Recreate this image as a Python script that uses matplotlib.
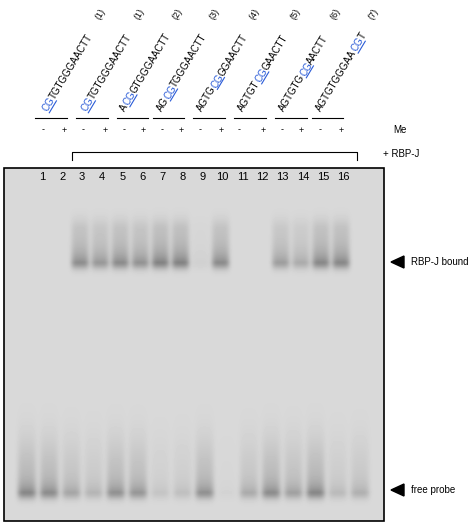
import numpy as np
import matplotlib.pyplot as plt
from matplotlib.textpath import TextPath
from matplotlib.font_manager import FontProperties

# sequences: (prefix, methylated CG, suffix)
seqs = [("", "CG", "TGTGGGAACTT"), ("", "CG", "TGTGGGAACTT"), ("A", "CG", "GTGGGAACTT"),
        ("AG", "CG", "TGGGAACTT"), ("AGTG", "CG", "GGAACTT"), ("AGTGT", "CG", "GAACTT"),
        ("AGTGTG", "CG", "AACTT"), ("AGTGTGGGAA", "CG", "T")]
seq_ids = ["(1)", "(1)", "(2)", "(3)", "(4)", "(5)", "(6)", "(7)"]
lanes = [str(i) for i in range(1, 17)]
me = ["-", "+"] * 8
bound = [0, 0, 0.7, 0.6, 0.72, 0.65, 0.8, 0.8, 0.08, 0.72, 0, 0, 0.55, 0.42, 0.75, 0.75]
free = [0.8, 0.75, 0.5, 0.35, 0.7, 0.65, 0.2, 0.25, 0.7, 0.05, 0.45, 0.75, 0.55, 0.8, 0.3, 0.4]

W, H = 474, 527
fig = plt.figure(figsize=(W / 100, H / 100), dpi=100)
ax = fig.add_axes([0, 0, 1, 1])
ax.set_xlim(0, W)
ax.set_ylim(H, 0)
ax.axis("off")

# gel image
gx0, gx1, gy0, gy1 = 4, 384, 168, 521
xs = np.arange(gx0, gx1) + 0.5
ys = np.arange(gy0, gy1) + 0.5
X, Y = np.meshgrid(xs, ys)
img = np.full(X.shape, 0.85)
num_x = np.linspace(42, 343, 16)
for i in range(16):
    # bound band (lanes lean left toward bottom)
    cb = num_x[i] - 2
    b = bound[i]
    prof = np.exp(-((X - cb) / 9.0) ** 4)
    band = np.where(Y < 262, 0.25 + 0.75 * np.exp(-((262 - Y) / 12.0)), np.exp(-((Y - 262) / 7.0) ** 2))
    band = band * np.where(Y < 230, np.exp(-((230 - Y) / 12.0) ** 2), 1.0)
    img -= b * 0.42 * prof * band
    cf = 27 + i * 22.2
    f = free[i]
    prof = np.exp(-((X - cf) / 9.5) ** 4)
    band = np.where(Y < 492, 0.3 + 0.7 * np.exp(-((492 - Y) / 10.0)), np.exp(-((Y - 492) / 7.0) ** 2))
    band = band * np.where(Y < 470, np.exp(-((470 - Y) / 35.0) ** 2), 1.0)
    img -= f * 0.4 * prof * band
img = np.clip(img, 0, 1)
ax.imshow(img, cmap="gray", vmin=0, vmax=1, extent=(gx0, gx1, gy1, gy0), aspect="auto", zorder=1,
          interpolation="bilinear")
ax.add_patch(plt.Rectangle((gx0, gy0), gx1 - gx0, gy1 - gy0, fill=False, lw=1.2, ec="k", zorder=2))

font = "Liberation Sans"
fp = FontProperties(family=font)
fs = 7.0
rot = 59
ang = np.deg2rad(rot)
d = np.array([np.cos(ang), -np.sin(ang)])
perp = np.array([np.sin(ang), np.cos(ang)])
starts = [48, 87, 125, 162, 202, 243, 284, 321]


def width_px(s):
    if not s:
        return 0.0
    return TextPath((0, 0), s, size=fs, prop=fp).get_extents().width * 100 / 72 + 0.5


for k, (pre, cg, suf) in enumerate(seqs):
    p = np.array([starts[k], 112.0])
    for part, col in ((pre, "k"), (cg, "#2a5bd7"), (suf, "k")):
        if part:
            ax.text(p[0], p[1], part, rotation=rot, rotation_mode="anchor", ha="left", va="baseline",
                    fontsize=fs, family=font, color=col)
            wpx = width_px(part)
            if col != "k":
                a = p + perp * 1.5
                e = a + d * wpx
                ax.plot([a[0], e[0]], [a[1], e[1]], color=col, lw=0.8)
            p = p + d * wpx
    ax.text(starts[k] + 52, 14, seq_ids[k], rotation=rot, ha="center", va="center", fontsize=6.5, family=font)

# underlines, Me row
line_x = [(35, 67), (76, 108), (117, 148), (153, 184), (193, 225), (234, 266), (275, 307), (312, 343)]
for a, b in line_x:
    ax.plot([a, b], [118, 118], color="k", lw=0.8)
me_x = [43, 64, 83, 105, 124, 143, 162, 181, 200, 221, 239, 263, 282, 301, 320, 341]
for x, s in zip(me_x, me):
    ax.text(x, 130, s, ha="center", va="center", fontsize=6.5, family=font)
ax.text(393, 130, "Me", ha="left", va="center", fontsize=7, family=font)

# RBP-J bracket
ax.plot([72, 72, 357, 357], [160, 152, 152, 160], color="k", lw=0.8)
ax.text(383, 154, "+ RBP-J", ha="left", va="center", fontsize=7, family=font)

for x, s in zip(num_x, lanes):
    ax.text(x, 177, s, ha="center", va="center", fontsize=8, family=font, zorder=3)

for yy, lab in ((262, "RBP-J bound"), (490, "free probe")):
    ax.add_patch(plt.Polygon([[391, yy], [404, yy - 6], [404, yy + 6]], color="k"))
    ax.text(411, yy, lab, ha="left", va="center", fontsize=7, family=font)

fig.savefig("out.png", dpi=100)
